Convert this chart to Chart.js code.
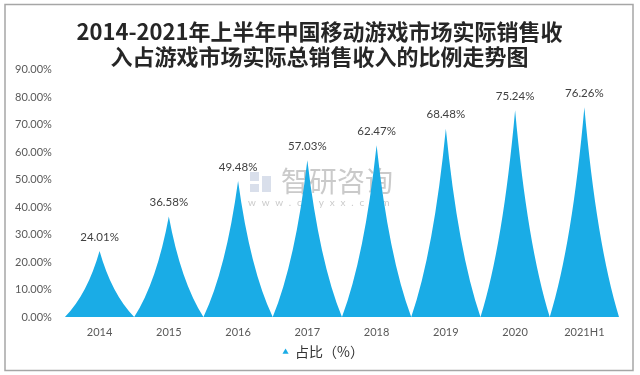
<!DOCTYPE html>
<html>
<head>
<meta charset="utf-8">
<script src="https://cdn.jsdelivr.net/npm/chart.js@4.4.1/dist/chart.umd.min.js"></script>
<style>
  html, body { margin: 0; padding: 0; background: #fff; }
</style>
</head>
<body>
<canvas id="chart" width="640" height="375"></canvas>
<script>
// --- Data ---
const categories = ['2014', '2015', '2016', '2017', '2018', '2019', '2020', '2021H1'];
const shareValues = [24.01, 36.58, 49.48, 57.03, 62.47, 68.48, 75.24, 76.26];
const titleLines = ['2014-2021年上半年中国移动游戏市场实际销售收', '入占游戏市场实际总销售收入的比例走势图'];
const seriesName = '占比（%）';

const spikeColor = '#1aace6';
const numFont = "Lato, 'Noto Sans CJK SC', sans-serif";
const cjkFont = "'Noto Sans CJK SC', sans-serif";

// --- Spike shapes + labels (replace the default bar rectangles) ---
const spikePlugin = {
    id: 'spikes',
    afterLayout(chart) {
        // nudge legend and title to sit centred like the original
        chart.legend.left += 13;
        chart.legend.right += 13;
        chart.titleBlock.left += 9;
        chart.titleBlock.right += 9;
    },
    beforeDatasetsDraw(chart) {
        // faint source watermark behind the marks
        const ctx = chart.ctx;
        ctx.save();
        ctx.fillStyle = 'rgba(150,150,150,0.5)';
        ctx.font = "28px " + cjkFont;
        ctx.textAlign = 'left';
        ctx.textBaseline = 'middle';
        ctx.fillText('智研咨询', 281, 181);
        ctx.fillStyle = 'rgba(170,185,210,0.45)';
        ctx.fillRect(250, 172, 9, 9);
        ctx.fillRect(262, 176, 9, 16);
        ctx.fillRect(250, 184, 9, 8);
        ctx.fillStyle = 'rgba(150,150,150,0.5)';
        ctx.font = "10px " + numFont;
        ctx.letterSpacing = '5.8px';
        ctx.fillText('www.chyxx.com', 248, 203);
        ctx.restore();
    },
    beforeDatasetDraw(chart, args) {
        const ctx = chart.ctx;
        const meta = args.meta;
        ctx.save();
        ctx.fillStyle = spikeColor;
        meta.data.forEach(bar => {
            const hw = bar.width / 2;
            const h = bar.base - bar.y;
            ctx.beginPath();
            ctx.moveTo(bar.x - hw, bar.base);
            ctx.quadraticCurveTo(bar.x - 0.35 * hw, bar.base - 0.35 * h, bar.x, bar.y);
            ctx.quadraticCurveTo(bar.x + 0.35 * hw, bar.base - 0.35 * h, bar.x + hw, bar.base);
            ctx.closePath();
            ctx.fill();
        });
        // value labels above the tips
        ctx.fillStyle = '#404040';
        ctx.font = "11.5px " + numFont;
        ctx.textAlign = 'center';
        ctx.textBaseline = 'middle';
        meta.data.forEach((bar, i) => {
            ctx.fillText(shareValues[i].toFixed(2) + '%', bar.x, bar.y - 14);
        });
        ctx.restore();
        return false;
    },
    afterDraw(chart) {
        // outer frame
        const ctx = chart.ctx;
        ctx.save();
        ctx.strokeStyle = '#a6a6a6';
        ctx.lineWidth = 1.5;
        ctx.strokeRect(5, 4.5, 628, 366);
        ctx.restore();
    }
};

const ctx = document.getElementById('chart').getContext('2d');
const chart = new Chart(ctx, {
    type: 'bar',
    data: {
        labels: categories,
        datasets: [{
            label: seriesName,
            data: shareValues,
            backgroundColor: spikeColor,
            borderWidth: 0,
            barPercentage: 1,
            categoryPercentage: 1
        }]
    },
    options: {
        responsive: false,
        maintainAspectRatio: false,
        animation: false,
        devicePixelRatio: 1,
        layout: {
            padding: { left: 2, right: 21, top: 0, bottom: 6 }
        },
        scales: {
            x: {
                grid: { display: false, drawTicks: false },
                border: { display: false },
                ticks: {
                    color: '#595959',
                    font: { family: numFont, size: 11 },
                    padding: 9
                },
                afterFit(scale) { scale.height = 22; }
            },
            y: {
                min: 0,
                max: 90,
                grid: { display: false, drawTicks: false },
                border: { display: false },
                ticks: {
                    stepSize: 10,
                    color: '#595959',
                    font: { family: numFont, size: 11 },
                    padding: 13,
                    callback: v => v.toFixed(2) + '%'
                }
            }
        },
        plugins: {
            title: {
                display: true,
                text: titleLines,
                color: '#262626',
                font: { family: cjkFont, size: 22, weight: 'bold', lineHeight: 1.15 },
                padding: { top: 19, bottom: 0 }
            },
            legend: {
                position: 'bottom',
                labels: {
                    usePointStyle: true,
                    pointStyle: 'triangle',
                    boxWidth: 5,
                    boxHeight: 5,
                    color: '#333333',
                    font: { family: cjkFont, size: 14 },
                    padding: 6
                }
            },
            tooltip: { enabled: false }
        }
    },
    plugins: [spikePlugin]
});
</script>
</body>
</html>
